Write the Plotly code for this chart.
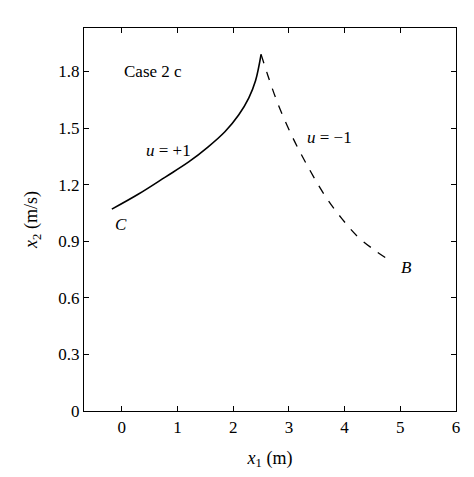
import plotly.graph_objects as go

x_plus = [-0.18, 0.3, 0.78, 1.2, 1.55, 1.85, 2.1, 2.28, 2.4, 2.50]
y_plus = [1.07, 1.15, 1.24, 1.32, 1.40, 1.48, 1.57, 1.66, 1.75, 1.89]
x_minus = [2.50, 2.62, 2.8, 3.05, 3.35, 3.65, 3.95, 4.25, 4.55, 4.85]
y_minus = [1.89, 1.78, 1.63, 1.46, 1.29, 1.14, 1.02, 0.92, 0.85, 0.79]

F = "Liberation Serif"
fig = go.Figure()
fig.add_trace(go.Scatter(x=x_plus, y=y_plus, mode="lines", line=dict(color="black", width=1.6, shape="spline", smoothing=1.0)))
fig.add_trace(go.Scatter(x=x_minus, y=y_minus, mode="lines", line=dict(color="black", width=1.3, dash="dash", shape="spline", smoothing=1.0)))

ann = [
    (0.55, 1.80, "Case 2 c"),
    (0.84, 1.38, "<i>u</i> = +1"),
    (3.72, 1.45, "<i>u</i> = −1"),
    (-0.02, 0.99, "<i>C</i>"),
    (5.12, 0.76, "<i>B</i>"),
]
for x, y, t in ann:
    fig.add_annotation(x=x, y=y, text=t, showarrow=False, font=dict(family=F, size=17, color="black"))

ax = dict(showgrid=False, zeroline=False, showline=True, linecolor="black", linewidth=1.2,
          mirror="ticks", ticks="inside", ticklen=5, tickcolor="black",
          tickfont=dict(family=F, size=17, color="black"))
fig.update_xaxes(range=[-0.68, 6], tickvals=[0, 1, 2, 3, 4, 5, 6],
                 title=dict(text="<i>x</i><sub>1</sub> (m)", font=dict(family=F, size=18, color="black")), **ax)
fig.update_yaxes(range=[0, 2.03], tickvals=[0, 0.3, 0.6, 0.9, 1.2, 1.5, 1.8],
                 ticktext=["0", "0.3", "0.6", "0.9", "1.2", "1.5", "1.8"],
                 title=dict(text="<i>x</i><sub>2</sub> (m/s)", font=dict(family=F, size=18, color="black")), **ax)
fig.update_layout(width=474, height=477, showlegend=False, plot_bgcolor="white", paper_bgcolor="white",
                  margin=dict(l=76, r=26, t=20, b=74))
fig.write_html("out.html")
